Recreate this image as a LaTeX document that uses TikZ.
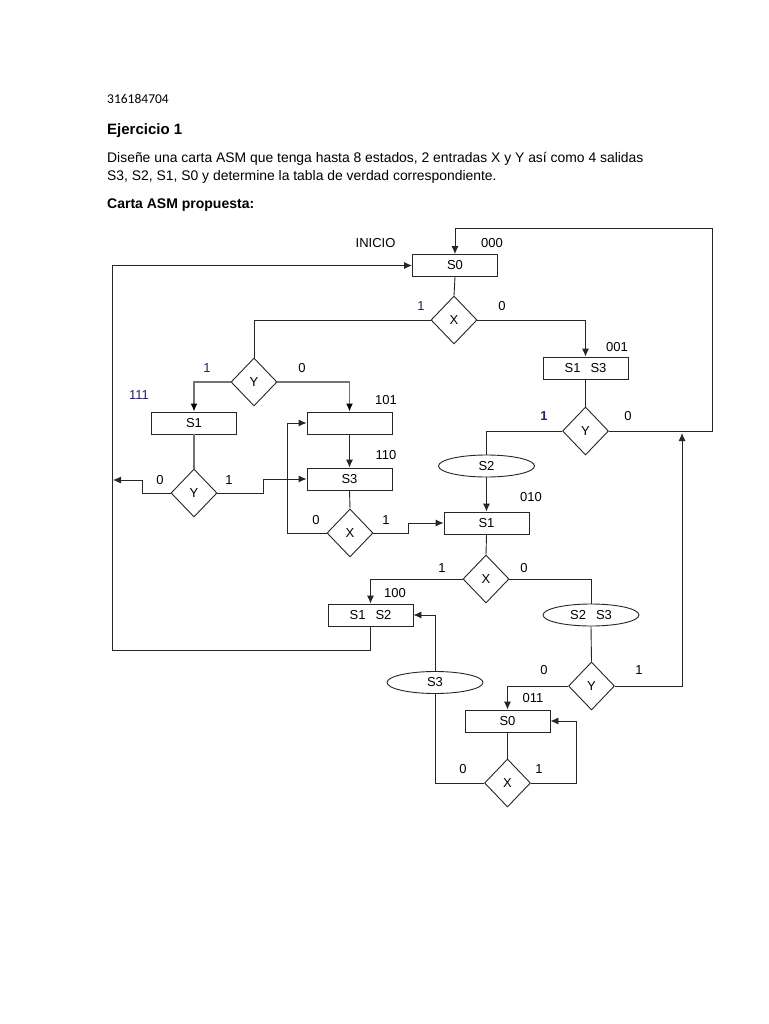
\documentclass[tikz,border=0pt]{standalone}
\usepackage{fontspec}
\setmainfont{Liberation Sans}
\newfontfamily\carl{Carlito}
\usetikzlibrary{shapes.geometric,arrows.meta}
\begin{document}
\begin{tikzpicture}[x=1pt,y=-1pt,
  every node/.style={font=\fontsize{13}{15}\selectfont},
  stbox/.style={draw=black!85, line width=0.9pt, rectangle, minimum width=85pt, minimum height=22pt, inner sep=0pt},
  dec/.style={draw=black!85, line width=0.9pt, diamond, minimum width=46pt, minimum height=48pt, inner sep=0pt},
  oval/.style={draw=black!85, line width=0.9pt, ellipse, minimum width=96pt, minimum height=22pt, inner sep=0pt},
  ln/.style={draw=black!85, line width=0.9pt},
  gln/.style={draw=black!55, line width=1.5pt},
  arr/.style={ln, -{Latex[length=8pt,width=7pt]}},
  garr/.style={gln, -{Latex[length=8pt,width=7pt,color=black]}},
  lbl/.style={inner sep=0pt, anchor=center},
  nav/.style={lbl, text={rgb,255:red,40;green,30;blue,110}}
]
\useasboundingbox (0,0) rectangle (768,1024);
\fill[white] (0,0) rectangle (768,1024);

% header texts
\node[anchor=base west, inner sep=0pt, font=\carl\fontsize{13.5}{15}\selectfont] (id) at (107,104) {316184704};
\node[anchor=base west, inner sep=0pt, font=\bfseries\fontsize{15}{17}\selectfont] (ej) at (107,135) {Ejercicio 1};
\node[anchor=base west, inner sep=0pt, font=\fontsize{13.9}{18}\selectfont] (t1) at (107,163) {Diseñe una carta ASM que tenga hasta 8 estados, 2 entradas X y Y así como 4 salidas};
\node[anchor=base west, inner sep=0pt, font=\fontsize{13.9}{18}\selectfont] (t2) at (107,181) {S3, S2, S1, S0 y determine la tabla de verdad correspondiente.};
\node[anchor=base west, inner sep=0pt, font=\bfseries\fontsize{14}{17}\selectfont] (ca) at (107,209) {Carta ASM propuesta:};

% state boxes
\node[stbox] (s0) at (455,265.5) {S0};
\node[stbox] (s13) at (585.5,368) {S1\hspace{10pt}S3};
\node[stbox] (s1a) at (194,423) {S1};
\node[stbox] (b101) at (349.5,423) {};
\node[stbox] (s3) at (349.5,479) {S3};
\node[stbox] (s1b) at (486.5,523) {S1};
\node[stbox] (s12) at (370.5,615) {S1\hspace{10pt}S2};
\node[stbox] (s0b) at (507.5,721) {S0};

% decisions
\node[dec] (x0) at (454,320) {X};
\node[dec] (y2) at (254,382) {Y};
\node[dec] (y1) at (585.5,431) {Y};
\node[dec] (y3) at (194,493) {Y};
\node[dec] (x1) at (350,533) {X};
\node[dec] (x2) at (486,579) {X};
\node[dec] (y4) at (591.5,686) {Y};
\node[dec] (x3) at (507.5,783) {X};

% conditional outputs
\node[oval] (o2) at (486.5,466) {S2};
\node[oval] (o23) at (591,615) {S2\hspace{10pt}S3};
\node[oval] (o3) at (435,682.5) {S3};

% labels
\node[lbl] (inicio) at (375.5,243) {INICIO};
\node[lbl] (c000) at (492,243) {000};
\node[nav] (l1a) at (421,306) {1};
\node[lbl] (l0a) at (502,306) {0};
\node[lbl] (c001) at (617,347) {001};
\node[nav] (l1b) at (207,368) {1};
\node[lbl] (l0b) at (302,368) {0};
\node[nav] (c111) at (139,395) {111};
\node[lbl] (c101) at (386,400) {101};
\node[nav, font=\bfseries\fontsize{13}{15}\selectfont] (l1c) at (544,416) {1};
\node[lbl] (l0c) at (628,416) {0};
\node[lbl] (c110) at (386,455) {110};
\node[lbl] (l0d) at (160,480) {0};
\node[lbl] (l1d) at (229,480) {1};
\node[lbl] (c010) at (531,497) {010};
\node[lbl] (l0e) at (316,520) {0};
\node[lbl] (l1e) at (386,520) {1};
\node[lbl] (l1f) at (442,568) {1};
\node[lbl] (l0f) at (524,568) {0};
\node[lbl] (c100) at (395,593) {100};
\node[lbl] (l0g) at (544,670) {0};
\node[lbl] (l1g) at (639,670) {1};
\node[lbl] (c011) at (533,698) {011};
\node[lbl] (l0h) at (463,769) {0};
\node[lbl] (l1h) at (539,769) {1};

% named free ends
\coordinate (lw) at (113,480);
\coordinate (up) at (682,433);

% connectors
\draw[arr] (y1.east) -- (712,431) -- (712,228) -| (s0.north);
\draw[arr] (s12.south) |- (112,650) |- (s0.west);
\draw[ln] (s0.south) -- (x0.north);
\draw[ln] (x0.west) -| (y2.north);
\draw[arr] (x0.east) -| (s13.north);
\draw[ln] (s13.south) -- (y1.north);
\draw[ln] (y1.west) -| (o2.north);
\draw[arr] (o2.south) -- (s1b.north);
\draw[garr] (y2.west) -| (s1a.north);
\draw[garr] (y2.east) -| (b101.north);
\draw[arr] (b101.south) -- (s3.north);
\draw[gln] (s1a.south) -- (y3.north);
\draw[arr] (y3.west) -- (142,493) -- (142,480) -- (lw);
\draw[arr] (y3.east) -- (263,493) |- (s3.west);
\draw[ln] (s3.south) -- (x1.north);
\draw[arr] (x1.west) -- (287,533) |- (b101.west);
\draw[arr] (x1.east) -- (408,533) |- (s1b.west);
\draw[ln] (s1b.south) -- (x2.north);
\draw[arr] (x2.west) -| (s12.north);
\draw[ln] (x2.east) -| (o23.north);
\draw[ln] (o23.south) -- (y4.north);
\draw[arr] (y4.west) -| (s0b.north);
\draw[arr] (y4.east) -- (682,686) -- (up);
\draw[ln] (s0b.south) -- (x3.north);
\draw[arr] (x3.east) -- (576,783) |- (s0b.east);
\draw[ln] (x3.west) -| (o3.south);
\draw[arr] (o3.north) |- (s12.east);
\end{tikzpicture}
\end{document}
